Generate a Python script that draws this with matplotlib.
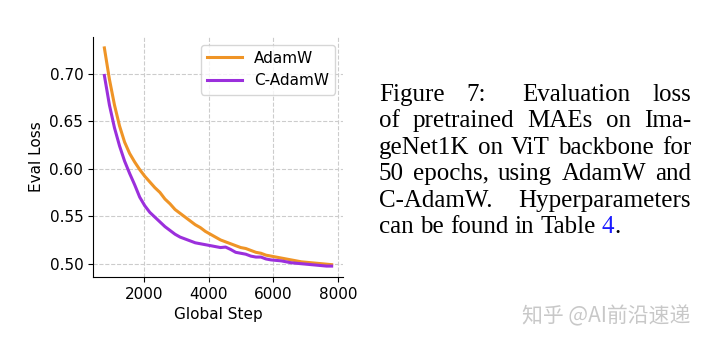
import matplotlib
matplotlib.use("Agg")
import matplotlib.pyplot as plt

# eval every epoch (156 steps), from epoch 5 to 50
steps = [780, 936, 1092, 1248, 1404, 1560, 1716, 1872, 2028, 2184,
         2340, 2496, 2652, 2808, 2964, 3120, 3276, 3432, 3588, 3744,
         3900, 4056, 4212, 4368, 4524, 4680, 4836, 4992, 5148, 5304,
         5460, 5616, 5772, 5928, 6084, 6240, 6396, 6552, 6708, 6864,
         7020, 7176, 7332, 7488, 7644, 7800]

adamw = [0.727, 0.694, 0.667, 0.645, 0.628, 0.616, 0.607, 0.599, 0.592, 0.586,
         0.580, 0.575, 0.568, 0.563, 0.557, 0.553, 0.549, 0.545, 0.541, 0.538,
         0.534, 0.531, 0.528, 0.525, 0.523, 0.521, 0.519, 0.517, 0.516, 0.514,
         0.512, 0.511, 0.509, 0.508, 0.507, 0.506, 0.505, 0.504, 0.503, 0.502,
         0.5015, 0.501, 0.5005, 0.500, 0.4995, 0.499]

c_adamw = [0.698, 0.667, 0.643, 0.624, 0.608, 0.595, 0.583, 0.570, 0.561, 0.554,
           0.549, 0.544, 0.539, 0.535, 0.531, 0.528, 0.526, 0.524, 0.522, 0.521,
           0.520, 0.519, 0.518, 0.517, 0.5175, 0.515, 0.512, 0.511, 0.510, 0.508,
           0.507, 0.507, 0.505, 0.504, 0.5035, 0.503, 0.502, 0.501, 0.5005, 0.500,
           0.4995, 0.499, 0.4985, 0.498, 0.4975, 0.4975]

yticks = [0.50, 0.55, 0.60, 0.65, 0.70]
xticks = [2000, 4000, 6000, 8000]

caption = [
    ["Figure", "7:", "Evaluation", "loss"],
    ["of", "pretrained", "MAEs", "on", "Ima-"],
    ["geNet1K", "on", "ViT", "backbone", "for"],
    ["50", "epochs,", "using", "AdamW", "and"],
    ["C-AdamW.", "Hyperparameters"],
    ["can", "be", "found", "in", "Table"],
]
# wider space after the colon in the first line
gap_weights = {0: [1, 1.6, 1]}

W, H = 708, 344
fig = plt.figure(figsize=(W / 100, H / 100), dpi=100)
ax = fig.add_axes([93 / W, 1 - 277 / H, 250 / W, 240 / H])

ax.plot(steps, adamw, color="#ef9426", lw=2.2, label="AdamW")
ax.plot(steps, c_adamw, color="#9b2fdc", lw=2.2, label="C-AdamW")

ax.set_xticks(xticks)
ax.set_yticks(yticks)
ax.set_yticklabels(["%.2f" % v for v in yticks])
ax.tick_params(labelsize=11)
ax.grid(True, ls="--", color="#cccccc", lw=0.8)
ax.spines["top"].set_visible(False)
ax.spines["right"].set_visible(False)
ax.set_xlabel("Global Step", fontsize=11)
ax.set_ylabel("Eval Loss", fontsize=11)
ax.legend(loc="upper right", fontsize=11, handlelength=2.3)

# caption, justified word by word
r = fig.canvas.get_renderer()
x0, x1 = 379, 691
base0, pitch = 100.7, 26.5
font = dict(family="Liberation Serif", fontsize=18)


def put(x, y, s, color="black"):
    t = fig.text(x / W, 1 - y / H, s, ha="left", va="baseline", color=color, **font)
    return t, t.get_window_extent(r).width


def measure(s):
    t, w = put(0, 0, s)
    t.remove()
    return w


space = measure("a a") - 2 * measure("a")
for i, words in enumerate(caption):
    y = base0 + i * pitch
    widths = [measure(w) for w in words]
    last = i == len(caption) - 1
    wts = gap_weights.get(i, [1] * (len(words) - 1))
    if not last:
        unit = (x1 - x0 - sum(widths)) / sum(wts)
    x = x0
    for j, (w, wd) in enumerate(zip(words, widths)):
        put(x, y, w)
        x += wd
        if j < len(words) - 1:
            x += space if last else unit * wts[j]
    if last:
        _, w4 = put(x + space, y, "4", color="#1a1aff")
        put(x + space + w4, y, ".")

fig.text(606 / W, 1 - 316 / H, "知乎 @AI前沿速递", ha="center", va="center",
         fontsize=15, color="#c8c8c8", family=["Noto Sans CJK SC", "DejaVu Sans"])

fig.savefig("out.png", dpi=100)
